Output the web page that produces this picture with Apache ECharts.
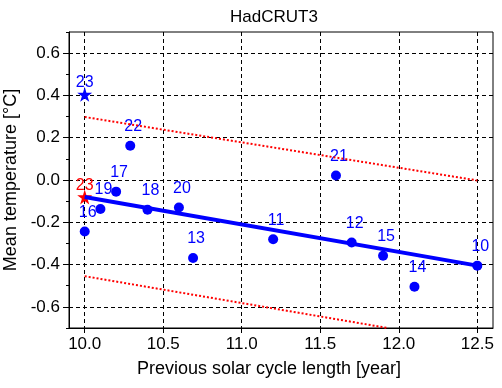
<!DOCTYPE html>
<html><head><meta charset="utf-8">
<script src="https://cdn.jsdelivr.net/npm/echarts@6/dist/echarts.min.js"></script>
<style>html,body{margin:0;padding:0;background:#fff}#c{width:502px;height:388px}</style>
</head><body><div id="c"></div>
<script>
const cycles = ['10','11','12','13','14','15','16','17','18','19','20','21','22'];
const cycleLength = [12.5, 11.2, 11.7, 10.69, 12.1, 11.9, 10.0, 10.2, 10.4, 10.1, 10.6, 11.6, 10.29];
const meanTemp = [-0.405, -0.28, -0.296, -0.369, -0.505, -0.358, -0.244, -0.055, -0.141, -0.137, -0.13, 0.021, 0.162];
const observed23 = [10.0, 0.405];
const predicted23 = [10.0, -0.08];
const fitLine = [[10.0, -0.08], [12.5, -0.405]];
const upperBand = [[10.0, 0.298], [12.5, -0.002]];
const lowerBand = [[10.0, -0.455], [11.93, -0.70]];
const xTicks = [10.0, 10.5, 11.0, 11.5, 12.0, 12.5];
const yTicks = [-0.6, -0.4, -0.2, 0.0, 0.2, 0.4, 0.6];

const FONT = 'Liberation Sans, Arial, sans-serif';
const STAR = 'path://M50,0 L61,35 L98,35 L68,57 L79,91 L50,70 L21,91 L32,57 L2,35 L39,35 Z';
const BLUE = '#0000ff', RED = '#ff0000';

const chart = echarts.init(document.getElementById('c'), null, {renderer: 'canvas'});
const gridDash = {show: true, lineStyle: {color: '#000', width: 1, type: [4, 3]}};
const labelBase = {show: true, position: 'top', formatter: '{b}', fontFamily: FONT, fontSize: 16, opacity: 1};
chart.setOption({
  animation: false,
  backgroundColor: '#fff',
  title: {text: 'HadCRUT3', left: 225, top: 4,
    textStyle: {fontFamily: FONT, fontSize: 17, fontWeight: 'normal', color: '#000'}},
  grid: {left: 69, right: 9, top: 32, bottom: 60, show: true, borderColor: '#000', borderWidth: 1,
    backgroundColor: 'transparent', containLabel: false, outerBoundsMode: 'none'},
  xAxis: {
    type: 'value', min: 9.9, max: 12.6,
    name: 'Previous solar cycle length [year]', nameLocation: 'middle', nameGap: 32,
    nameTextStyle: {fontFamily: FONT, fontSize: 18, color: '#000', padding: [0, 24, 0, 0]},
    axisLine: {show: true, onZero: false, lineStyle: {color: '#000'}},
    axisTick: {show: true, customValues: xTicks, length: 5, lineStyle: {color: '#000'}},
    axisLabel: {customValues: xTicks, margin: 8, fontFamily: FONT, fontSize: 17, color: '#000',
      formatter: v => Number(v).toFixed(1)},
    splitLine: gridDash
  },
  yAxis: [{
    type: 'value', min: -0.7, max: 0.7,
    name: 'Mean temperature [°C]', nameLocation: 'middle', nameGap: 40,
    nameTextStyle: {fontFamily: FONT, fontSize: 18, color: '#000'},
    axisLine: {show: true, onZero: false, lineStyle: {color: '#000'}},
    axisTick: {show: true, customValues: yTicks, length: 6, lineStyle: {color: '#000'}},
    axisLabel: {customValues: yTicks, margin: 9, fontFamily: FONT, fontSize: 17, color: '#000',
      formatter: v => Number(v).toFixed(1)},
    splitLine: gridDash
  }, {
    type: 'value', min: -0.7, max: 0.7, interval: 0.1, position: 'left',
    axisLine: {show: false}, axisLabel: {show: false}, splitLine: {show: false},
    axisTick: {show: true, length: 3, lineStyle: {color: '#000'}}
  }],
  series: [
    {type: 'line', data: upperBand, symbol: 'none', silent: true,
      lineStyle: {color: RED, width: 2, type: [2, 2]}},
    {type: 'line', data: lowerBand, symbol: 'none', silent: true,
      lineStyle: {color: RED, width: 2, type: [2, 2]}},
    {type: 'line', data: fitLine, symbol: 'none', silent: true,
      lineStyle: {color: BLUE, width: 4}},
    {type: 'scatter', symbol: 'circle', symbolSize: 10, itemStyle: {color: BLUE, opacity: 1},
      data: cycleLength.map((x, i) => ({name: cycles[i], value: [x, meanTemp[i]]})),
      label: Object.assign({}, labelBase, {distance: 6, offset: [3, 0], color: BLUE})},
    {type: 'scatter', symbol: STAR, symbolSize: 15, itemStyle: {color: BLUE, opacity: 1},
      data: [{name: '23', value: observed23}],
      label: Object.assign({}, labelBase, {distance: -4, color: BLUE})},
    {type: 'scatter', symbol: STAR, symbolSize: 15, itemStyle: {color: RED, opacity: 1},
      data: [{name: '23', value: predicted23}],
      label: Object.assign({}, labelBase, {distance: -4, color: RED})}
  ]
});
</script></body></html>
